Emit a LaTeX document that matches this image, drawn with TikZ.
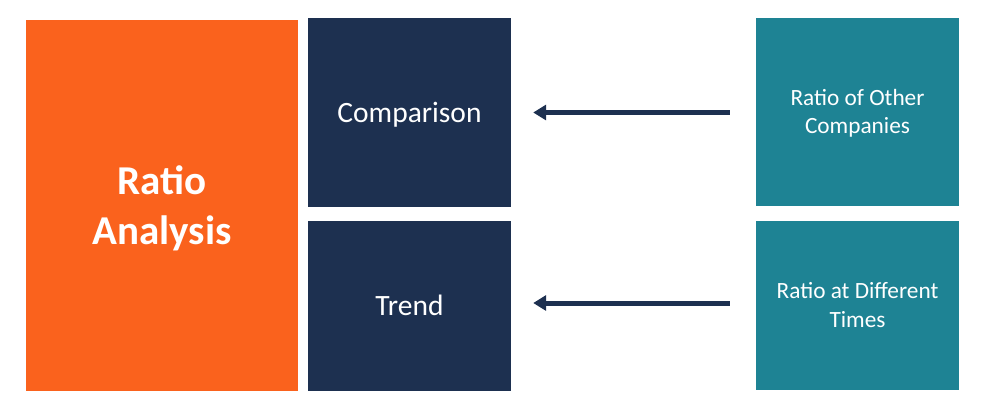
\documentclass[tikz,border=0pt]{standalone}
\usepackage{fontspec}
\setmainfont{Carlito}
\usetikzlibrary{arrows.meta}
\definecolor{ora}{RGB}{250,98,29}
\definecolor{nav}{RGB}{29,48,80}
\definecolor{tea}{RGB}{30,131,148}
\begin{document}
\begin{tikzpicture}[x=1pt,y=-1pt,
  box/.style={rectangle,inner sep=0pt},
  txt/.style={anchor=base,inner sep=0pt,text=white},
  maintxt/.style={txt,font=\fontsize{41}{49}\selectfont\bfseries},
  midtxt/.style={txt,font=\fontsize{29.5}{35}\selectfont},
  srctxt/.style={txt,font=\fontsize{23.3}{29}\selectfont},
  arr/.style={draw=nav,line width=5pt,-{Triangle[length=13pt,width=15pt]},shorten <=26pt,shorten >=22pt}]
\useasboundingbox (0,0) rectangle (985,408);
\node[box,fill=ora,minimum width=272pt,minimum height=371pt] (ra) at (162,205.5) {};
\node[box,fill=nav,minimum width=203pt,minimum height=189pt] (cmp) at (409.5,112.5) {};
\node[box,fill=nav,minimum width=203pt,minimum height=170pt] (trd) at (409.5,306) {};
\node[box,fill=tea,minimum width=203pt,minimum height=188pt] (oth) at (857.5,112) {};
\node[box,fill=tea,minimum width=203pt,minimum height=169pt] (tim) at (857.5,305.5) {};
\node[maintxt] (ra1) at (162,194) {Ratio};
\node[maintxt] (ra2) at (162,244) {Analysis};
\node[midtxt] (cmpt) at (409.5,122.5) {Comparison};
\node[midtxt] (trdt) at (409.5,315) {Trend};
\node[srctxt] (oth1) at (857.5,105) {Ratio of Other};
\node[srctxt] (oth2) at (857.5,133.5) {Companies};
\node[srctxt] (tim1) at (857.5,298) {Ratio at Different};
\node[srctxt] (tim2) at (857.5,327) {Times};
\draw[arr] ([yshift=-0.5pt]oth.west) -- (cmp.east);
\draw[arr] ([yshift=2.5pt]tim.west) -- ([yshift=3pt]trd.east);
\end{tikzpicture}
\end{document}
